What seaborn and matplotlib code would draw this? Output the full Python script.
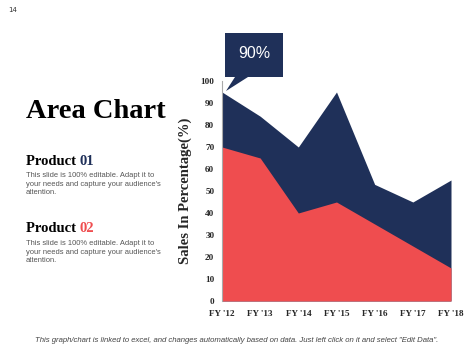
import matplotlib.pyplot as plt
import seaborn as sns
from matplotlib.patches import Polygon

years = ["FY '12", "FY '13", "FY '14", "FY '15", "FY '16", "FY '17", "FY '18"]
product_01 = [95, 84, 70, 95, 53, 45, 55]
product_02 = [70, 65, 40, 45, 35, 25, 15]

navy = '#1f3059'
red = '#ef4d4f'

sns.set_style('white')
plt.rcParams['font.family'] = ['DejaVu Sans']

W, H = 474, 355
fig = plt.figure(figsize=(W / 100, H / 100), dpi=100)
ax = fig.add_axes([222 / W, 1 - 301 / H, (451 - 222) / W, (301 - 81) / H])

x = list(range(len(years)))
ax.fill_between(x, product_01, color=navy, linewidth=0)
ax.fill_between(x, product_02, color=red, linewidth=0)

ax.set_xlim(0, len(years) - 1)
ax.set_ylim(0, 100)
ax.set_yticks(range(0, 101, 10))
ax.set_xticks(x)
ax.set_xticklabels(years)
ax.tick_params(axis='x', length=0, pad=6.5)
ax.tick_params(axis='y', length=0, pad=5.5)
for lab in ax.get_xticklabels() + ax.get_yticklabels():
    lab.set_fontfamily('Liberation Serif')
    lab.set_fontweight('bold')
    lab.set_fontsize(6.6)
ax.set_ylabel('Sales In Percentage(%)', fontfamily='Liberation Serif',
              fontweight='bold', fontsize=10.5, labelpad=6)
sns.despine(ax=ax, bottom=True)
ax.spines['left'].set_color('#aaaaaa')
ax.spines['left'].set_linewidth(0.8)


def fx(px):
    return px / W


def fy(py):
    return 1 - py / H


# callout box
callout = Polygon([(fx(225), fy(33)), (fx(283), fy(33)), (fx(283), fy(77)),
                   (fx(248), fy(77)), (fx(226), fy(91)), (fx(235), fy(77)),
                   (fx(225), fy(77))], closed=True, transform=fig.transFigure,
                  facecolor=navy, edgecolor='none')
fig.patches.append(callout)
fig.text(fx(254), fy(54), '90%', color='white', fontsize=11.5,
         ha='center', va='center', family='Liberation Sans')

fig.text(fx(8), fy(10), '14', fontsize=5, va='center', color='#333333')
fig.text(fx(26), fy(111), 'Area Chart', fontsize=20.5, fontweight='bold',
         family='Liberation Serif', va='center', color='black')

desc = "This slide is 100% editable. Adapt it to\nyour needs and capture your audience's\nattention."
for ytop, num, col in [(161, '01', navy), (229, '02', red)]:
    t = fig.text(fx(26), fy(ytop), 'Product ', fontsize=10.5, fontweight='bold',
                 family='Liberation Serif', va='center', color='black')
    fig.canvas.draw()
    bb = t.get_window_extent()
    fig.text(bb.x1 / W, fy(ytop), num, fontsize=10.5, fontweight='bold',
             family='Liberation Serif', va='center', color=col)
    fig.text(fx(26), fy(ytop + 11), desc, fontsize=5.4, family='Liberation Sans',
             va='top', color='#555555', linespacing=1.35)

fig.text(0.5, fy(340), 'This graph/chart is linked to excel, and changes automatically based on data. '
         'Just left click on it and select "Edit Data".', fontsize=5.6, style='italic',
         family='Liberation Sans', ha='center', va='center', color='#444444')

fig.savefig('out.png', dpi=100)
